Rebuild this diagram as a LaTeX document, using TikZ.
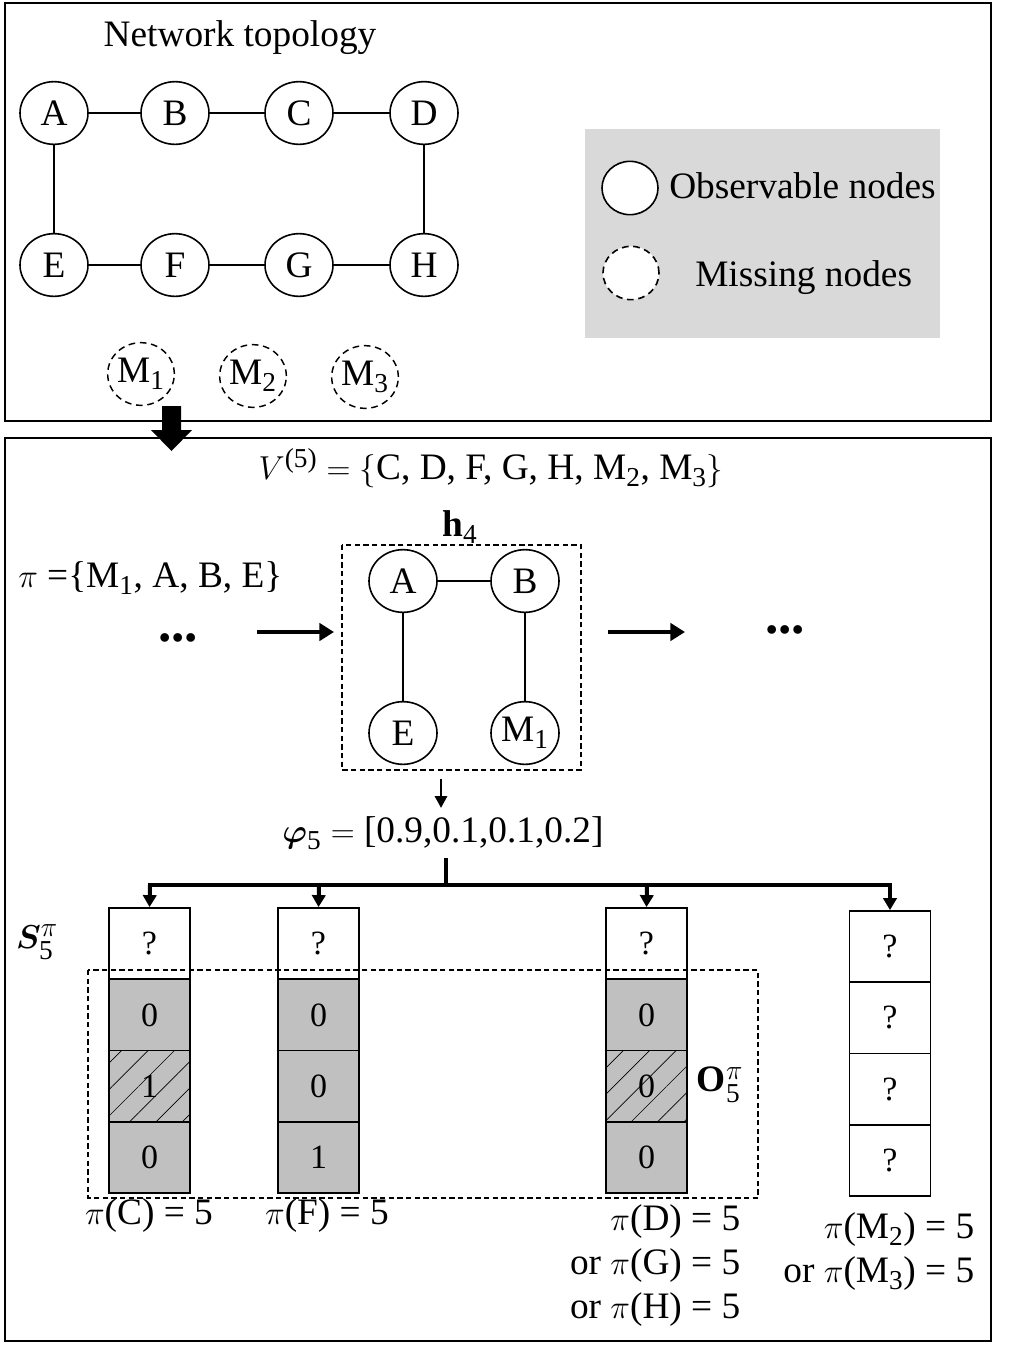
\documentclass[tikz,border=0pt]{standalone}
\usepackage{fontspec}
\setmainfont{Liberation Serif}
\usepackage{amsmath}
\usepackage{bm}
\DeclareMathSizes{28}{28}{20.5}{15}
\DeclareMathSizes{25.5}{25.5}{18}{13}
\newcommand{\tx}[1]{\text{#1}}
\usetikzlibrary{shapes.geometric,arrows.meta,patterns.meta}
\definecolor{legendgray}{RGB}{217,217,217}
\definecolor{cellgray}{RGB}{192,192,192}
\begin{document}
\begin{tikzpicture}[x=0.75pt,y=-0.75pt,
  every node/.style={font=\fontsize{28}{33}\selectfont},
  topo/.style={ellipse,draw,line width=1.2pt,minimum width=51pt,minimum height=47pt,inner sep=0pt,fill=white},
  miss/.style={ellipse,draw,line width=1.1pt,minimum width=50pt,minimum height=47pt,inner sep=0pt,dash pattern=on 5pt off 3.5pt},
  lgobs/.style={ellipse,draw,line width=1.2pt,minimum width=42pt,minimum height=40pt,inner sep=0pt,fill=white},
  lgmiss/.style={lgobs,dash pattern=on 5pt off 3.5pt},
  edge/.style={line width=1.2pt},
  frame/.style={line width=1.6pt},
  dbox/.style={line width=1pt,dash pattern=on 4pt off 2.5pt},
  cell/.style={draw,line width=1.4pt,minimum width=60.75pt,minimum height=53.5pt,inner sep=0pt,font=\fontsize{25.5}{30}\selectfont},
  obs/.style={cell,fill=cellgray},
  hatch/.style={cell,fill=cellgray,postaction={pattern={Lines[angle=45,distance=14pt,line width=0.5pt]}}},
  qm/.style={cell,fill=white},
  dots/.style={font=\fontsize{40}{44}\selectfont\bfseries,inner sep=0pt},
  bigarrow/.style={line width=3.7pt,-{Triangle[length=11pt,width=13pt]}},
  smallarrow/.style={line width=2.2pt,-{Triangle[length=9pt,width=9pt]}},
  tline/.style={line width=3pt},
  tarrow/.style={line width=3pt,-{Triangle[length=9pt,width=10pt]}}
]
\useasboundingbox (0,0) rectangle (1009,1357);
% frames
\draw[frame] (5,3) rectangle (991,421);
\draw[frame] (5,438) rectangle (991,1341);

% ---------- top panel ----------
\node (title) at (240,38) {Network topology};
\node[topo] (A) at (54,113) {A};
\node[topo] (B) at (175,113) {B};
\node[topo] (C) at (299,113) {C};
\node[topo] (D) at (424,113) {D};
\node[topo] (E) at (54,265) {E};
\node[topo] (F) at (175,265) {F};
\node[topo] (G) at (299,265) {G};
\node[topo] (H) at (424,265) {H};
\draw[edge] (A) -- (B);
\draw[edge] (B) -- (C);
\draw[edge] (C) -- (D);
\draw[edge] (A) -- (E);
\draw[edge] (D) -- (H);
\draw[edge] (E) -- (F);
\draw[edge] (F) -- (G);
\draw[edge] (G) -- (H);

\node[miss,label={center:M$_{\tx{1}}$}] (M1) at (141,374) {};
\node[miss,label={center:M$_{\tx{2}}$}] (M2) at (253,376) {};
\node[miss,label={center:M$_{\tx{3}}$}] (M3) at (365,377) {};

% legend
\fill[legendgray] (585,129) rectangle (940,338);
\node[lgobs] (lo) at (630,188) {};
\node[anchor=west,inner sep=0pt] (lot) at (669,186) {Observable nodes};
\node[lgmiss] (lm) at (631,273) {};
\node[anchor=west,inner sep=0pt] (lmt) at (695,278) {Missing nodes};

% block arrow
\fill (162,406) -- (181,406) -- (181,430) -- (192,430) -- (171.5,451) -- (151,430) -- (162,430) -- cycle;

% ---------- bottom panel ----------
\node (V5) at (491,468) {$V^{\tx{(5)}}=\{$C, D, F, G, H, M$_{\tx{2}}$, M$_{\tx{3}}\}$};
\node[anchor=west,inner sep=0pt] (pi) at (18,578) {$\pi$ =\{M$_{\tx{1}}$, A, B, E\}};

\draw[dbox] (342,545) rectangle (581,770);
\node[inner sep=0pt] (h4) at (460,527) {$\mathbf{h}_{\tx{4}}$};
\node[topo] (hA) at (403,581) {A};
\node[topo] (hB) at (525,581) {B};
\node[topo] (hE) at (403,733) {E};
\node[topo,label={center:M$_{\tx{1}}$}] (hM) at (525,733) {};
\draw[edge] (hA) -- (hB);
\draw[edge] (hA) -- (hE);
\draw[edge] (hB) -- (hM);

\node[dots] (dl) at (178,638) {...};
\node[dots] (dr) at (785,630) {...};
\coordinate (la1) at (257,632);
\coordinate (la2) at (334,632);
\coordinate (ra1) at (608,632);
\coordinate (ra2) at (685,632);
\draw[bigarrow] (la1) -- (la2);
\draw[bigarrow] (ra1) -- (ra2);

\coordinate (da1) at (441,779);
\coordinate (da2) at (441,808);
\draw[smallarrow] (da1) -- (da2);

\node (phi) at (443,833) {$\bm{\varphi}_{\tx{5}}=$ [0.9,0.1,0.1,0.2]};

% tree
\coordinate (st) at (446,858);
\coordinate (sb) at (446,885);
\coordinate (j1) at (150,885);
\coordinate (j2) at (319,885);
\coordinate (j3) at (647,885);
\coordinate (j4) at (890,885);
\draw[tline] (st) -- (sb);
\draw[tline,line cap=rect] (j1) -- (j4);

% columns
\node[qm]    (c0) at (149.5,943.7) {?};
\node[obs]   (c1) at (149.5,1014.9) {0};
\node[hatch] (c2) at (149.5,1086.2) {1};
\node[obs]   (c3) at (149.5,1157.4) {0};

\node[qm]    (f0) at (318.5,943.7) {?};
\node[obs]   (f1) at (318.5,1014.9) {0};
\node[obs]   (f2) at (318.5,1086.2) {0};
\node[obs]   (f3) at (318.5,1157.4) {1};

\node[qm]    (d0) at (646.5,943.7) {?};
\node[obs]   (d1) at (646.5,1014.9) {0};
\node[hatch] (d2) at (646.5,1086.2) {0};
\node[obs]   (d3) at (646.5,1157.4) {0};

\node[qm] (m0) at (890,946.7) {?};
\node[qm] (m1) at (890,1017.9) {?};
\node[qm] (m2) at (890,1089.2) {?};
\node[qm] (m3) at (890,1160.4) {?};

\draw[tarrow] (j1) -- (c0.north);
\draw[tarrow] (j2) -- (f0.north);
\draw[tarrow] (j3) -- (d0.north);
\draw[tarrow] (j4) -- (m0.north);

\draw[dbox] (88,970) rectangle (758,1198);

\node[inner sep=0pt] (S) at (37,942) {$\bm{S}_{\tx{5}}^{\pi}$};
\node[inner sep=0pt] (O) at (720,1085) {$\mathbf{O}_{\tx{5}}^{\pi}$};

% labels
\node (lC) at (149,1216) {$\pi$(C) = 5};
\node (lF) at (327,1216) {$\pi$(F) = 5};
\node[anchor=east] (lD) at (745,1222) {$\pi$(D) = 5};
\node[anchor=east] (lG) at (745,1266) {or $\pi$(G) = 5};
\node[anchor=east] (lH) at (745,1310) {or $\pi$(H) = 5};
\node[anchor=east] (lM2) at (979,1230) {$\pi$(M$_{\tx{2}}$) = 5};
\node[anchor=east] (lM3) at (979,1274) {or $\pi$(M$_{\tx{3}}$) = 5};
\end{tikzpicture}
\end{document}
